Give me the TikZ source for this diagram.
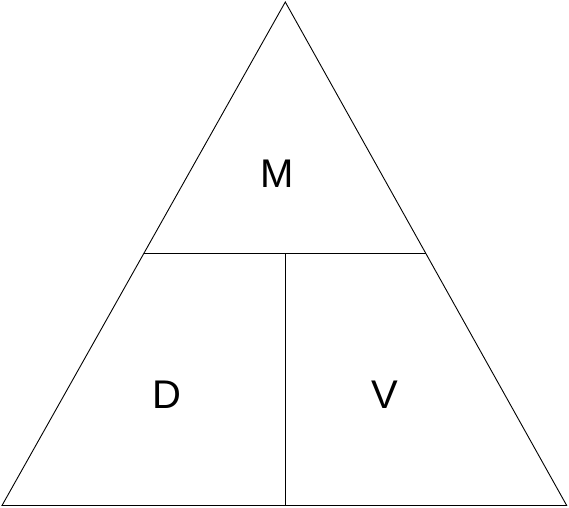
\documentclass[tikz,border=0pt]{standalone}
\usepackage{fontspec}
\setmainfont{Liberation Sans}
\usetikzlibrary{calc}
\begin{document}
\begin{tikzpicture}[x=1pt,y=1pt,
  edge/.style={draw=black,line width=0.9pt},
  lbl/.style={font=\fontsize{40}{42}\selectfont,inner sep=0pt,anchor=center}]
\useasboundingbox (0,0) rectangle (569,507);
\coordinate (A) at (285.3,505);
\coordinate (L) at (2,1.5);
\coordinate (R) at (566.7,1.5);
\coordinate (ML) at ($(L)!0.5!(A)$);
\coordinate (MR) at ($(R)!0.5!(A)$);
\coordinate (MT) at (285.5,253.25);
\coordinate (MB) at (285.5,1.5);
\draw[edge] (A) -- (L) -- (R) -- cycle;
\draw[edge] (ML) -- (MR);
\draw[edge] (MT) -- (MB);
\node[lbl] (m) at (277.5,333) {M};
\node[lbl] (d) at (167,112) {D};
\node[lbl] (v) at (385,112) {V};
\end{tikzpicture}
\end{document}
